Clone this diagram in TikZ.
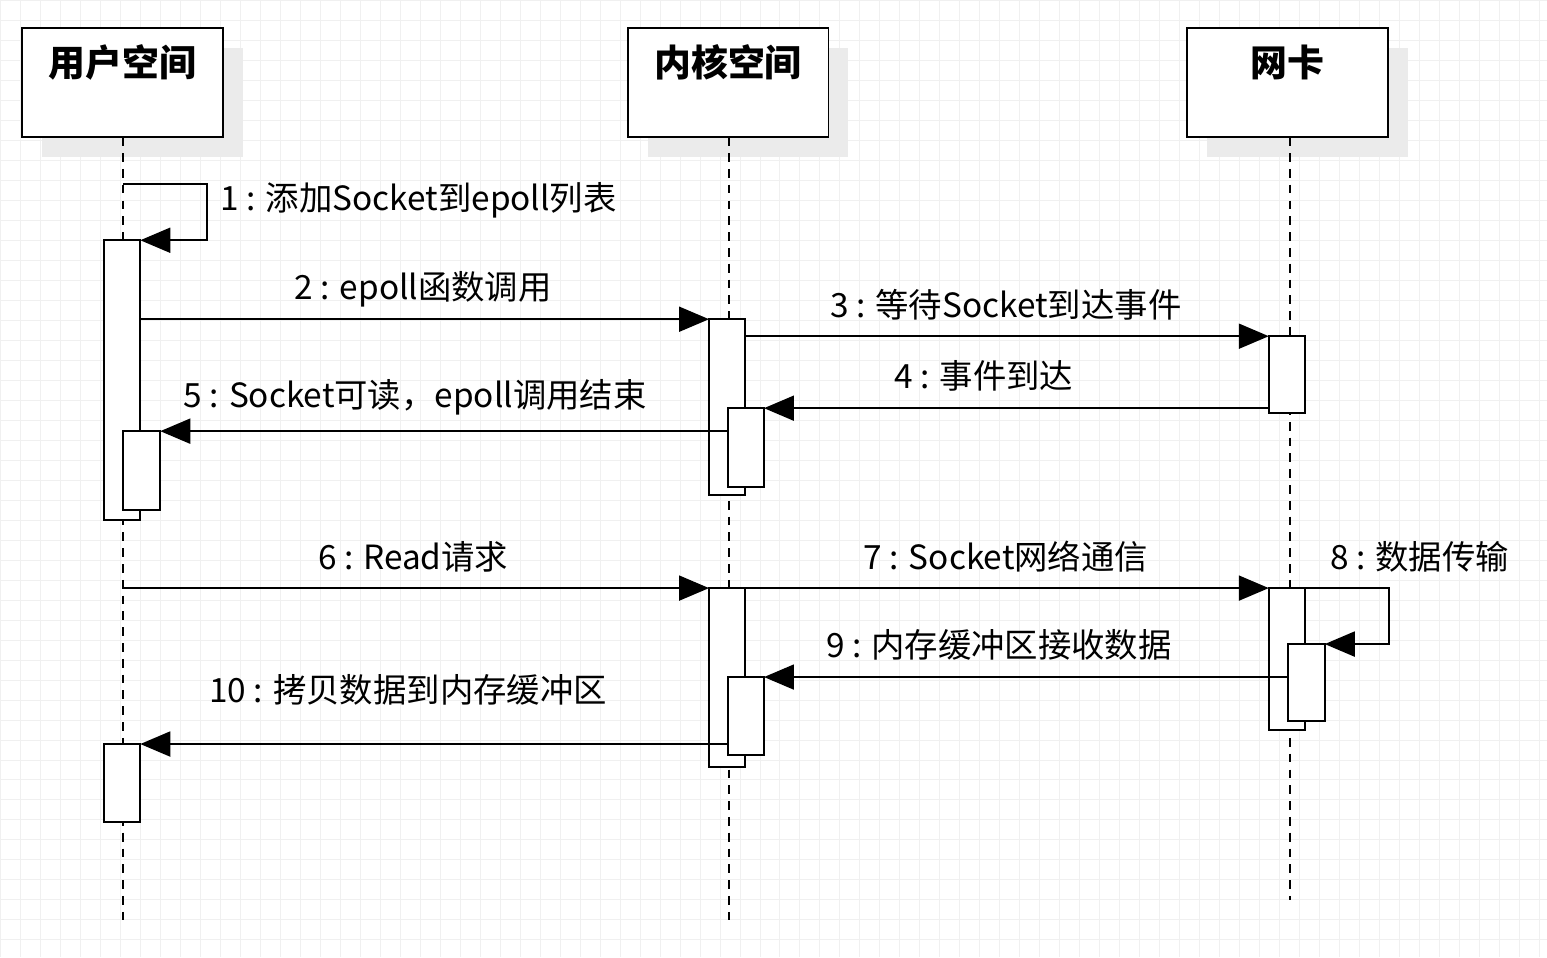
\documentclass[tikz,border=0pt]{standalone}
\usepackage{fontspec}
\setmainfont{Noto Sans CJK SC}
\usetikzlibrary{arrows.meta}
\tikzset{
  head/.style={draw,line width=1.1pt,fill=white,minimum width=4.02cm,minimum height=2.18cm,inner sep=0pt},
  shadow/.style={fill=black!8,draw=none,minimum width=4.02cm,minimum height=2.18cm},
  life/.style={line width=1.1pt,dashed,dash pattern=on 5pt off 4pt},
  act/.style={draw,line width=1.1pt,fill=white},
  msg/.style={line width=1.1pt,-{Triangle[length=0.6cm,width=0.5cm]}},
  lbl/.style={font=\fontsize{19}{22}\selectfont,inner sep=0pt}
}
\begin{document}
\begin{tikzpicture}[x=0.02cm,y=-0.02cm]
  \fill[white] (0,0) rectangle (1547,957);
  \draw[black!6,step=0.4cm] (0,0) grid (1547,957);
  \useasboundingbox (0,0) rectangle (1547,957);

  % headers
  \foreach \x/\t/\n in {122/用户空间/user,728/内核空间/kern,1288/网卡/nic}{
    \node[shadow] at (\x+20,102) {};
    \node[head] (\n) at (\x,82) {};
    \node[lbl,font=\fontsize{21}{24}\selectfont\bfseries] at (\x,62) {\t};
  }

  % lifelines
  \draw[life] (123,137) -- (123,920);
  \draw[life] (729,137) -- (729,920);
  \draw[life] (1290,137) -- (1290,900);

  % activations
  \draw[act] (104,240) rectangle (140,520);
  \draw[act] (123,431) rectangle (160,510);
  \draw[act] (104,744) rectangle (140,822);
  \draw[act] (709,319) rectangle (745,495);
  \draw[act] (728,408) rectangle (764,487);
  \draw[act] (709,588) rectangle (745,767);
  \draw[act] (728,677) rectangle (764,755);
  \draw[act] (1269,336) rectangle (1305,413);
  \draw[act] (1269,588) rectangle (1305,730);
  \draw[act] (1288,644) rectangle (1325,721);

  % messages
  \draw[msg] (123,184) -- (207,184) -- (207,240) -- (140,240);
  \node[lbl,anchor=west] at (220,200) {1 : 添加Socket到epoll列表};
  \draw[msg] (140,319) -- (709,319);
  \node[lbl] at (423,289) {2 : epoll函数调用};
  \draw[msg] (745,336) -- (1269,336);
  \node[lbl] at (1006,305) {3 : 等待Socket到达事件};
  \draw[msg] (1269,408) -- (764,408);
  \node[lbl] at (984,376) {4 : 事件到达};
  \draw[msg] (728,431) -- (160,431);
  \node[lbl] at (415,397) {5 : Socket可读，epoll调用结束};
  \draw[msg] (123,588) -- (709,588);
  \node[lbl] at (413,557) {6 : Read请求};
  \draw[msg] (745,588) -- (1269,588);
  \node[lbl] at (1006,557) {7 : Socket网络通信};
  \draw[msg] (1305,588) -- (1389,588) -- (1389,644) -- (1325,644);
  \node[lbl,anchor=west] at (1330,557) {8 : 数据传输};
  \draw[msg] (1288,677) -- (764,677);
  \node[lbl] at (999,645) {9 : 内存缓冲区接收数据};
  \draw[msg] (728,744) -- (140,744);
  \node[lbl] at (408,690) {10 : 拷贝数据到内存缓冲区};
\end{tikzpicture}
\end{document}
